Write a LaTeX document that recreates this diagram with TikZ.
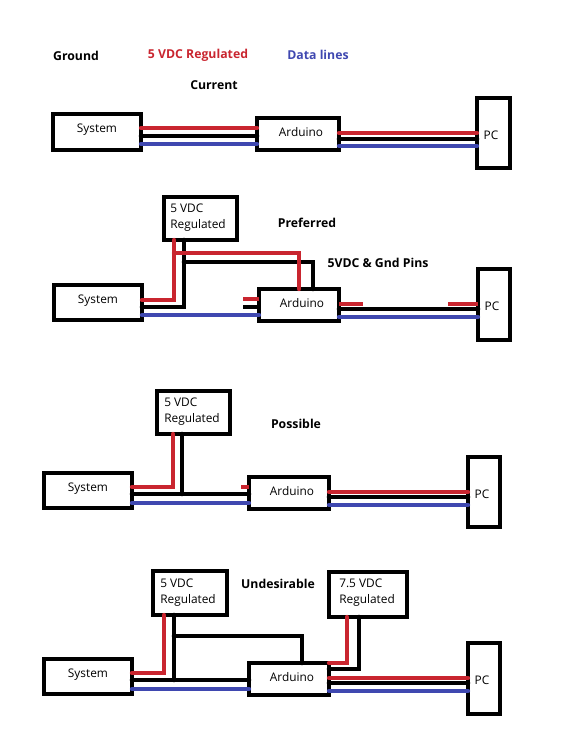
\documentclass[tikz,border=0pt]{standalone}
\usepackage{fontspec}
\setmainfont{Open Sans}
\usetikzlibrary{fit}
\definecolor{wred}{HTML}{C9252F}
\definecolor{wblue}{HTML}{3F48B0}
\tikzset{
  bx/.style={draw=black,line width=3.6pt,fill=white,inner sep=0pt,outer sep=0pt,line join=miter},
  wr/.style={draw=wred,line width=3.3pt,line cap=round,line join=miter},
  wk/.style={draw=black,line width=3.5pt,line cap=round,line join=miter},
  wb/.style={draw=wblue,line width=3.3pt,line cap=round},
  stub/.style={line cap=butt},
  lab/.style={font=\fontsize{8.9}{12}\selectfont,inner sep=0pt,align=left},
  head/.style={font=\fontsize{9.2}{12}\selectfont\bfseries,inner sep=0pt}
}
\begin{document}
\begin{tikzpicture}[x=0.75pt,y=-0.75pt]
\useasboundingbox (0,0) rectangle (564,748);
% boxes
\node[bx,fit={(53,114)(141,150)}] (s1) {};
\node[bx,fit={(257,118)(339,150)}] (a1) {};
\node[bx,fit={(477,98)(510,168)}] (p1) {};
\node[bx,fit={(164,197)(237,240)}] (r2) {};
\node[bx,fit={(54,285)(142,320)}] (s2) {};
\node[bx,fit={(259,289)(339,321)}] (a2) {};
\node[bx,fit={(478,269)(510,340)}] (p2) {};
\node[bx,fit={(157,391)(230,434)}] (r3) {};
\node[bx,fit={(44,473)(132,508)}] (s3) {};
\node[bx,fit={(249,477)(329,509)}] (a3) {};
\node[bx,fit={(468,457)(500,527)}] (p3) {};
\node[bx,fit={(153,571)(227,615)}] (r4) {};
\node[bx,fit={(329,572)(407,617)}] (q4) {};
\node[bx,fit={(44,659)(132,694)}] (s4) {};
\node[bx,fit={(249,663)(329,695)}] (a4) {};
\node[bx,fit={(468,643)(500,714)}] (p4) {};
% panel 1 wires
\draw[wk] (s1.east |- 0,136) -- (a1.west |- 0,136);
\draw[wr] (s1.east |- 0,128) -- (a1.west |- 0,128);
\draw[wb] (s1.east |- 0,144) -- (a1.west |- 0,144);
\draw[wk] (a1.east |- 0,139) -- (p1.west |- 0,139);
\draw[wr] (a1.east |- 0,133) -- (p1.west |- 0,133);
\draw[wb] (a1.east |- 0,146) -- (p1.west |- 0,146);
% panel 2 wires
\draw[wk] (s2.east |- 0,307) -- (184,307) -- (r2.south -| 184,0);
\draw[wk] (184,262) -- (313,262) -- (a2.north -| 313,0);
\draw[wk,stub] (243,307) -- (a2.west |- 0,307);
\draw[wk] (a2.east |- 0,309) -- (p2.west |- 0,309);
\draw[wr] (s2.east |- 0,300) -- (174,300) -- (r2.south -| 174,0);
\draw[wr] (174,253) -- (299,253) -- (a2.north -| 299,0);
\draw[wr,stub] (243,299) -- (a2.west |- 0,299);
\draw[wr,stub] (a2.east |- 0,304) -- (363,304);
\draw[wr,stub] (448,304) -- (p2.west |- 0,304);
\draw[wb] (s2.east |- 0,315) -- (a2.west |- 0,315);
\draw[wb] (a2.east |- 0,317) -- (p2.west |- 0,317);
% panel 3 wires
\draw[wk] (s3.east |- 0,494) -- (a3.west |- 0,494);
\draw[wk] (182,494) -- (r3.south -| 182,0);
\draw[wk] (a3.east |- 0,497) -- (p3.west |- 0,497);
\draw[wr] (s3.east |- 0,487) -- (173,487) -- (r3.south -| 173,0);
\draw[wr,stub] (241,487) -- (a3.west |- 0,487);
\draw[wr] (a3.east |- 0,492) -- (p3.west |- 0,492);
\draw[wb] (s3.east |- 0,503) -- (a3.west |- 0,503);
\draw[wb] (a3.east |- 0,505) -- (p3.west |- 0,505);
% panel 4 wires
\draw[wk] (s4.east |- 0,680) -- (a4.west |- 0,680);
\draw[wk] (174,680) -- (r4.south -| 174,0);
\draw[wk] (174,636) -- (302,636) -- (a4.north -| 302,0);
\draw[wk] (q4.south -| 359,0) -- (359,669) -- (a4.east |- 0,669);
\draw[wk] (a4.east |- 0,683) -- (p4.west |- 0,683);
\draw[wr] (s4.east |- 0,673) -- (164,673) -- (r4.south -| 164,0);
\draw[wr] (q4.south -| 347,0) -- (347,663) -- (a4.east |- 0,663);
\draw[wr] (a4.east |- 0,678) -- (p4.west |- 0,678);
\draw[wb] (s4.east |- 0,689) -- (a4.west |- 0,689);
\draw[wb] (a4.east |- 0,691) -- (p4.west |- 0,691);
% headings
\node[head] (tg) at (76,55.5) {Ground};
\node[head,text=wred] (tr) at (198,55) {5 VDC Regulated};
\node[head,text=wblue] (tb) at (318,55) {Data lines};
\node[head] (t1) at (214,85.5) {Current};
\node[head] (t2) at (307,222.5) {Preferred};
\node[head] (t2b) at (378,262.5) {5VDC \& Gnd Pins};
\node[head] (t3) at (296,423.5) {Possible};
\node[head] (t4) at (278,583.5) {Undesirable};
% box texts
\node[lab] (ls1) at (97,129.5) {System};
\node[lab] (la1) at (301,132) {Arduino};
\node[lab] (lp1) at (491,135.5) {PC};
\node[lab,anchor=west] (lr2) at (170,218) {5 VDC\\Regulated};
\node[lab] (ls2) at (98,300.5) {System};
\node[lab] (la2) at (302,303) {Arduino};
\node[lab] (lp2) at (492,306.5) {PC};
\node[lab,anchor=west] (lr3) at (164,412) {5 VDC\\Regulated};
\node[lab] (ls3) at (88,488.5) {System};
\node[lab] (la3) at (292,491) {Arduino};
\node[lab] (lp3) at (482,494.5) {PC};
\node[lab,anchor=west] (lr4) at (160,593) {5 VDC\\Regulated};
\node[lab,anchor=west] (lq4) at (339,593) {7.5 VDC\\Regulated};
\node[lab] (ls4) at (88,674.5) {System};
\node[lab] (la4) at (292,677) {Arduino};
\node[lab] (lp4) at (482,680.5) {PC};
\end{tikzpicture}
\end{document}
